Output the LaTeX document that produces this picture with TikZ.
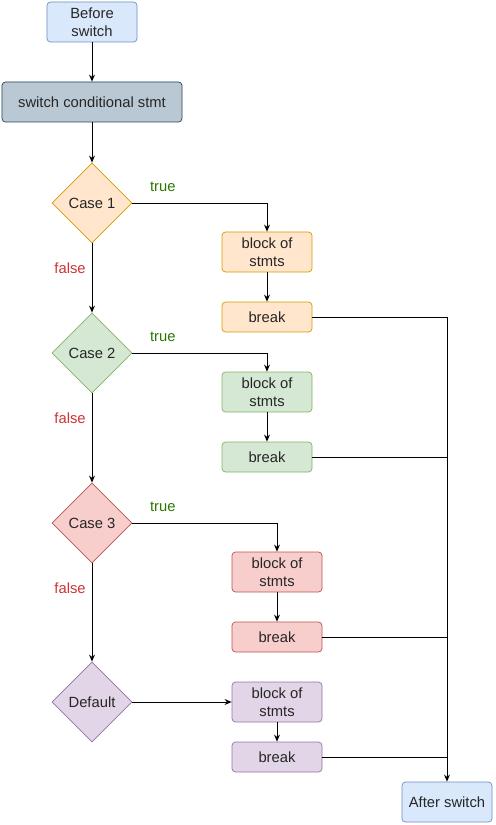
\documentclass[tikz,border=0pt]{standalone}
\usepackage{fontspec}
\setmainfont{Liberation Sans}
\usetikzlibrary{shapes.geometric,arrows.meta}
\definecolor{bluefill}{HTML}{DAE8FC}\definecolor{bluedraw}{HTML}{6C8EBF}
\definecolor{grayfill}{HTML}{BAC8D3}\definecolor{graydraw}{HTML}{23445D}
\definecolor{orangefill}{HTML}{FFE6CC}\definecolor{orangedraw}{HTML}{D79B00}
\definecolor{greenfill}{HTML}{D5E8D4}\definecolor{greendraw}{HTML}{82B366}
\definecolor{redfill}{HTML}{F8CECC}\definecolor{reddraw}{HTML}{B85450}
\definecolor{purplefill}{HTML}{E1D5E7}\definecolor{purpledraw}{HTML}{9673A6}
\definecolor{truetext}{HTML}{2D7600}
\definecolor{falsetext}{HTML}{CC3333}
\begin{document}
\begin{tikzpicture}[x=0.03cm, y=-0.03cm,
  every node/.style={font=\fontsize{12.6}{15}\selectfont, text=black!85, align=center},
  box/.style={draw, rounded corners=3pt, line width=0.6pt, minimum width=2.7cm, minimum height=1.2cm, inner sep=1pt},
  brk/.style={box, minimum height=0.9cm},
  case/.style={draw, diamond, aspect=1, line width=0.6pt, minimum width=2.4cm, minimum height=2.4cm, inner sep=0pt},
  arr/.style={-{Stealth[length=6pt,width=5pt]}, line width=0.8pt},
  lnk/.style={line width=0.8pt},
  yes/.style={text=truetext, at start, anchor=west, xshift=0.4cm, yshift=0.48cm},
  no/.style={text=falsetext, at start, anchor=east, xshift=-0.06cm, yshift=-0.75cm}]
\useasboundingbox (0,0) rectangle (495,825);
\node[box, fill=bluefill, draw=bluedraw] (before) at (92,22) {Before\\switch};
\node[box, fill=grayfill, draw=graydraw, minimum width=5.4cm] (switch) at (92,102) {switch conditional stmt};
\node[case, fill=orangefill, draw=orangedraw] (case1) at (92,203) {Case 1};
\node[box, fill=orangefill, draw=orangedraw] (block1) at (267,252) {block of\\stmts};
\node[brk, fill=orangefill, draw=orangedraw] (break1) at (267,317) {break};
\node[case, fill=greenfill, draw=greendraw] (case2) at (92,353) {Case 2};
\node[box, fill=greenfill, draw=greendraw] (block2) at (267,392) {block of\\stmts};
\node[brk, fill=greenfill, draw=greendraw] (break2) at (267,457) {break};
\node[case, fill=redfill, draw=reddraw] (case3) at (92,523) {Case 3};
\node[box, fill=redfill, draw=reddraw] (block3) at (277,572) {block of\\stmts};
\node[brk, fill=redfill, draw=reddraw] (break3) at (277,637) {break};
\node[case, fill=purplefill, draw=purpledraw] (default) at (92,702) {Default};
\node[box, fill=purplefill, draw=purpledraw] (block4) at (277,702) {block of\\stmts};
\node[brk, fill=purplefill, draw=purpledraw] (break4) at (277,757) {break};
\node[box, fill=bluefill, draw=bluedraw] (after) at (447,802) {After switch};
% main line
\draw[arr] (before) -- (switch);
\draw[arr] (switch) -- (case1);
\draw[arr] (case1) -- node[no] {false} (case2);
\draw[arr] (case2) -- node[no] {false} (case3);
\draw[arr] (case3) -- node[no] {false} (default);
% cases
\draw[arr] (case1.east) -| node[yes] {true} (block1.north);
\draw[arr] (case2.east) -| node[yes] {true} (block2.north);
\draw[arr] (case3.east) -| node[yes] {true} (block3.north);
\draw[arr] (default) -- (block4);
\draw[arr] (block1) -- (break1);
\draw[arr] (block2) -- (break2);
\draw[arr] (block3) -- (break3);
\draw[arr] (block4) -- (break4);
% breaks
\draw[arr] (break1.east) -| (after.north);
\draw[lnk] (break2.east) -- (break2 -| after);
\draw[lnk] (break3.east) -- (break3 -| after);
\draw[lnk] (break4.east) -- (break4 -| after);
\end{tikzpicture}
\end{document}
